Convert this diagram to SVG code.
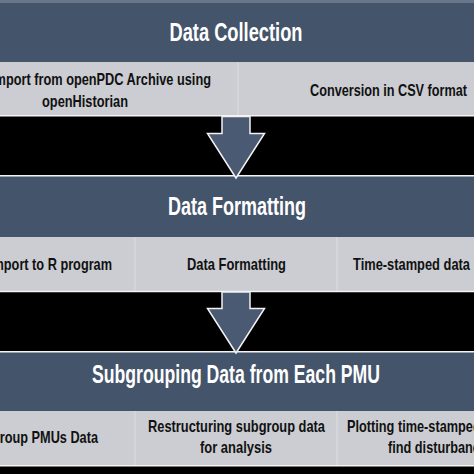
<svg xmlns="http://www.w3.org/2000/svg" width="474" height="474" viewBox="0 0 474 474">
<style>
.hdr{fill:#44546a}
.cell{fill:#cbcdd2}
.div{stroke:#dcdee2;stroke-width:1}
.sep{stroke:#f4f4f4;stroke-width:1.5}
.ht{font-family:"Liberation Sans",Arial,sans-serif;font-weight:bold;font-size:25px;fill:#ffffff;text-anchor:middle}
.ct{font-family:"Liberation Sans",Arial,sans-serif;font-weight:bold;font-size:16.5px;fill:#111111;text-anchor:middle}
.arrow{fill:#4a5a72;stroke:#f2f2f2;stroke-width:1.5;stroke-linejoin:miter}
</style>
<rect x="0" y="0" width="474" height="474" fill="#000000"/>
<rect x="0" y="0" width="474" height="3.5" fill="#6a768a"/>

<g id="stage1">
<rect class="hdr" x="0" y="3" width="474" height="59"/>
<text class="ht" x="236" y="41" textLength="133" lengthAdjust="spacingAndGlyphs">Data Collection</text>
</g>
<g id="import-openpdc">
<rect class="cell" x="0" y="62" width="238" height="53"/>
<text class="ct" x="101" y="85" textLength="220" lengthAdjust="spacingAndGlyphs">Import from openPDC Archive using</text>
<text class="ct" x="85" y="106.5" textLength="86" lengthAdjust="spacingAndGlyphs">openHistorian</text>
</g>
<g id="csv-conversion">
<rect class="cell" x="238" y="62" width="236" height="53"/>
<text class="ct" x="388.5" y="95.5" textLength="157" lengthAdjust="spacingAndGlyphs">Conversion in CSV format</text>
</g>
<line class="div" x1="238" y1="62" x2="238" y2="115"/>
<line class="sep" x1="0" y1="115.8" x2="474" y2="115.8"/>

<g id="stage2">
<rect class="hdr" x="0" y="176" width="474" height="61"/>
<text class="ht" x="237" y="215" textLength="138" lengthAdjust="spacingAndGlyphs">Data Formatting</text>
</g>
<line class="sep" x1="0" y1="175.8" x2="474" y2="175.8"/>
<g id="import-r">
<rect class="cell" x="0" y="237" width="135" height="54"/>
<text class="ct" x="50.5" y="270" textLength="123" lengthAdjust="spacingAndGlyphs">Import to R program</text>
</g>
<g id="data-formatting">
<rect class="cell" x="135" y="237" width="202" height="54"/>
<text class="ct" x="236.5" y="270" textLength="99" lengthAdjust="spacingAndGlyphs">Data Formatting</text>
</g>
<g id="time-stamped">
<rect class="cell" x="337" y="237" width="137" height="54"/>
<text class="ct" x="411.5" y="270" textLength="117" lengthAdjust="spacingAndGlyphs">Time-stamped data</text>
</g>
<line class="div" x1="135" y1="237" x2="135" y2="291"/>
<line class="div" x1="337" y1="237" x2="337" y2="291"/>
<line class="sep" x1="0" y1="291.5" x2="474" y2="291.5"/>

<g id="stage3">
<rect class="hdr" x="0" y="352" width="474" height="59"/>
<text class="ht" x="236" y="383" textLength="288" lengthAdjust="spacingAndGlyphs">Subgrouping Data from Each PMU</text>
</g>
<line class="sep" x1="0" y1="351.8" x2="474" y2="351.8"/>
<g id="subgroup-pmus">
<rect class="cell" x="0" y="411" width="135" height="54"/>
<text class="ct" x="33" y="443" textLength="130" lengthAdjust="spacingAndGlyphs">Subgroup PMUs Data</text>
</g>
<g id="restructuring">
<rect class="cell" x="135" y="411" width="202" height="54"/>
<text class="ct" x="236.5" y="432" textLength="177" lengthAdjust="spacingAndGlyphs">Restructuring subgroup data</text>
<text class="ct" x="236" y="453" textLength="72" lengthAdjust="spacingAndGlyphs">for analysis</text>
</g>
<g id="plotting">
<rect class="cell" x="337" y="411" width="137" height="54"/>
<text class="ct" x="436.5" y="432" textLength="179" lengthAdjust="spacingAndGlyphs">Plotting time-stamped data to</text>
<text class="ct" x="441" y="453" textLength="106" lengthAdjust="spacingAndGlyphs">find disturbances</text>
</g>
<line class="div" x1="135" y1="411" x2="135" y2="465"/>
<line class="div" x1="337" y1="411" x2="337" y2="465"/>
<line class="sep" x1="0" y1="465.8" x2="474" y2="465.8"/>

<g id="connectors">
<polygon class="arrow" points="222,116.5 250,116.5 250,133.5 264.5,133.5 236,178 207.5,133.5 222,133.5"/>
<polygon class="arrow" points="222,292 250,292 250,308.5 264.5,308.5 236,353 207.5,308.5 222,308.5"/>
</g>
</svg>
